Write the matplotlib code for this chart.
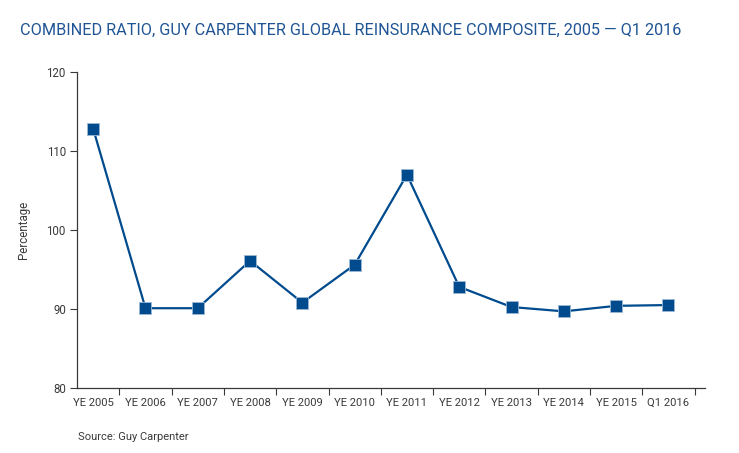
import matplotlib.pyplot as plt
import numpy as np

# combined ratio values
labels = ['YE 2005', 'YE 2006', 'YE 2007', 'YE 2008', 'YE 2009', 'YE 2010',
          'YE 2011', 'YE 2012', 'YE 2013', 'YE 2014', 'YE 2015', 'Q1 2016']
ratio = [112.8, 90.1, 90.1, 96.1, 90.8, 95.6, 107.0, 92.8, 90.25, 89.7, 90.4, 90.5]
yticks = [80, 90, 100, 110, 120]

blue = '#004b8d'
grey = '#3a3a3a'

plt.rcParams['font.family'] = ['Roboto', 'DejaVu Sans']

fig = plt.figure(figsize=(7.39, 4.53), dpi=100)
ax = fig.add_axes([77/739, 1-388/453, (705-77)/739, (388-72)/453])

x = np.arange(len(labels))
ax.plot(x, ratio, color=blue, lw=1.6, marker='s', markersize=8.5,
        markerfacecolor=blue, markeredgecolor='#9db8d6', markeredgewidth=0.6)

ax.set_xlim(-0.31, 11.7)
ax.set_ylim(80, 120)
ax.set_yticks(yticks)
ax.set_xticks(x + 0.5)
ax.set_xticklabels([])
ax.set_xticks(x, minor=True)
ax.set_xticklabels(labels, minor=True)
ax.tick_params(axis='x', which='minor', length=0, pad=7, labelsize=8.1, labelcolor=grey)
ax.tick_params(axis='x', which='major', length=5, color=grey, width=0.8)
ax.tick_params(axis='y', length=5, color=grey, width=0.8, labelsize=8.3, labelcolor=grey, pad=3)

for s in ['top', 'right']:
    ax.spines[s].set_visible(False)
for s in ['left', 'bottom']:
    ax.spines[s].set_color(grey)
    ax.spines[s].set_linewidth(0.9)

ax.set_ylabel('Percentage', fontsize=8.3, color=grey)
ax.yaxis.set_label_coords(-0.075, 0.5)

fig.text(20/739, 1-30/453, 'COMBINED RATIO, GUY CARPENTER GLOBAL REINSURANCE COMPOSITE, 2005 \u2014 Q1 2016',
         fontsize=11.7, color='#1f5495', va='center', ha='left')
fig.text(78/739, 1-437/453, 'Source: Guy Carpenter', fontsize=8, color=grey, va='center', ha='left')

fig.savefig('out.png', dpi=100)
